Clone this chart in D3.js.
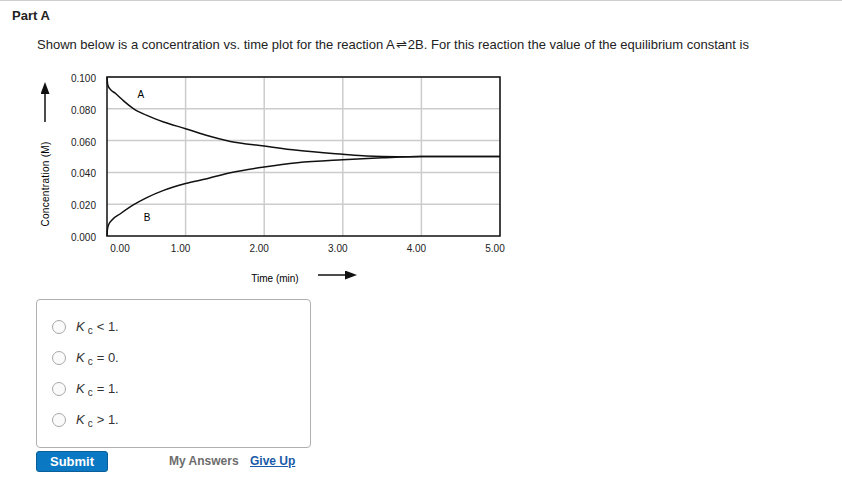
<!DOCTYPE html>
<html>
<head>
<meta charset="utf-8">
<style>
    body {
        margin: 0;
        width: 842px;
        height: 492px;
        background: white;
        font-family: Arial, 'Liberation Sans', Helvetica, sans-serif;
        color: #222;
        position: relative;
        overflow: hidden;
    }
    .topline {
        position: absolute; left: 0; top: 0; width: 842px; height: 1px;
        background: #cfcfcf;
    }
    .part {
        position: absolute; left: 12px; top: 8px;
        font-weight: bold; font-size: 13px; color: #222;
    }
    .question {
        position: absolute; left: 37px; top: 37px;
        font-size: 13px; color: #222; white-space: nowrap;
    }
    svg { position: absolute; left: 0; top: 0; overflow: visible; }
    .answers {
        position: absolute; left: 36px; top: 299px; width: 273px; height: 147px;
        border: 1px solid #b0b0b0; border-radius: 4px;
    }
    .opt {
        position: absolute; left: 0; height: 16px; font-size: 13px; color: #333;
    }
    .opt .radio {
        position: absolute; left: 15px; top: 1px; width: 12px; height: 12px;
        border: 1px solid #a8a8a8; border-radius: 50%; background: #fafafa;
    }
    .opt .lbl { position: absolute; left: 39px; top: 0; white-space: nowrap; }
    .opt sub { font-size: 10px; vertical-align: -3px; margin-left: 3px; margin-right: 4px; }
    .submit {
        position: absolute; left: 36px; top: 451px; width: 70px; height: 19px;
        background: #0b78c3; border: 1px solid #0a5e9a; border-radius: 3px;
        color: white; font-weight: bold; font-size: 13px; text-align: center; line-height: 19px;
    }
    .myans {
        position: absolute; left: 169px; top: 454px; font-weight: bold; font-size: 12px; color: #6d6d6d;
    }
    .giveup {
        position: absolute; left: 250px; top: 454px; font-weight: bold; font-size: 12px; color: #1a5aa8;
        text-decoration: underline;
    }
</style>
</head>
<body>
<div class="topline"></div>
<div class="part">Part A</div>
<div class="question">Shown below is a concentration vs. time plot for the reaction A&#8202;&#8652;&#8202;2B. For this reaction the value of the equilibrium constant is</div>

<svg width="842" height="300"></svg>

<div class="answers"></div>
<div class="submit">Submit</div>
<div class="myans">My Answers</div>
<div class="giveup">Give Up</div>

<script src="https://d3js.org/d3.v7.min.js"></script>
<script>

    // values
    let timeA = [0, 0.01, 0.05, 0.1, 0.2, 0.34, 0.5, 0.72, 1.0, 1.25, 1.57, 2.0, 2.42, 3.0, 3.3, 3.7, 4.0, 5.0]
    let concA = [0.100, 0.095, 0.0918, 0.090, 0.0855, 0.080, 0.076, 0.0717, 0.0675, 0.0635, 0.0595, 0.0566, 0.0539, 0.0514, 0.0503, 0.0498, 0.050, 0.050]

    let timeB = [0, 0.005, 0.02, 0.06, 0.17, 0.34, 0.5, 0.72, 1.0, 1.27, 1.57, 2.0, 2.42, 3.0, 3.5, 4.0, 5.0]
    let concB = [0, 0.004, 0.007, 0.0099, 0.014, 0.0197, 0.024, 0.0287, 0.033, 0.036, 0.0398, 0.0434, 0.0461, 0.048, 0.0492, 0.050, 0.050]

    let xTicks = [0, 1, 2, 3, 4, 5]
    let yTicks = [0, 0.02, 0.04, 0.06, 0.08, 0.1]

    let options = ["<", "=", "=", ">"]
    let optionValues = ["1.", "0.", "1.", "1."]

    let svg = d3.select("svg")

    let x = d3.scaleLinear().domain([0, 5]).range([107, 500])
    let y = d3.scaleLinear().domain([0, 0.1]).range([236, 77])

    // grid
    svg.append("g")
        .selectAll("line")
        .data(xTicks.slice(1))
        .join("line")
        .attr("x1", d => x(d)).attr("x2", d => x(d))
        .attr("y1", y(0.1)).attr("y2", y(0))
        .style("stroke", "#cccccc")
        .style("stroke-width", 1.5)

    svg.append("g")
        .selectAll("line")
        .data(yTicks.slice(1))
        .join("line")
        .attr("x1", x(0)).attr("x2", x(5))
        .attr("y1", d => y(d)).attr("y2", d => y(d))
        .style("stroke", "#cccccc")
        .style("stroke-width", 1.5)

    // frame
    svg.append("rect")
        .attr("x", x(0)).attr("y", y(0.1))
        .attr("width", x(5) - x(0)).attr("height", y(0) - y(0.1))
        .style("fill", "none")
        .style("stroke", "#111")
        .style("stroke-width", 1.5)

    // tick labels
    svg.append("g")
        .selectAll("text")
        .data(xTicks)
        .join("text")
        .attr("x", d => d == 0 ? x(d) + 13 : x(d) - 5)
        .attr("y", 252)
        .attr("text-anchor", "middle")
        .style("font-size", "10px")
        .style("fill", "#222")
        .text(d => d3.format(".2f")(d))

    svg.append("g")
        .selectAll("text")
        .data(yTicks)
        .join("text")
        .attr("x", 96)
        .attr("y", d => y(d) + 5)
        .attr("text-anchor", "end")
        .style("font-size", "10px")
        .style("fill", "#222")
        .text(d => d3.format(".3f")(d))

    // curves
    let lineA = d3.line()
        .x((d, i) => x(timeA[i]))
        .y(d => y(d))
        .curve(d3.curveMonotoneX)

    let lineB = d3.line()
        .x((d, i) => x(timeB[i]))
        .y(d => y(d))
        .curve(d3.curveMonotoneX)

    svg.append("path")
        .attr("d", lineA(concA))
        .style("fill", "none")
        .style("stroke", "#111")
        .style("stroke-width", 1.5)

    svg.append("path")
        .attr("d", lineB(concB))
        .style("fill", "none")
        .style("stroke", "#111")
        .style("stroke-width", 1.5)

    svg.append("text")
        .attr("x", x(0.43)).attr("y", y(0.0865))
        .attr("text-anchor", "middle")
        .style("font-size", "10px")
        .text("A")

    svg.append("text")
        .attr("x", x(0.51)).attr("y", y(0.0095))
        .attr("text-anchor", "middle")
        .style("font-size", "10px")
        .text("B")

    // axis titles and arrows
    svg.append("defs").append("marker")
        .attr("id", "head")
        .attr("viewBox", "0 0 10 10")
        .attr("refX", 0).attr("refY", 5)
        .attr("markerWidth", 8).attr("markerHeight", 6)
        .attr("orient", "auto")
        .attr("preserveAspectRatio", "none")
        .append("path")
        .attr("d", "M0,0 L10,5 L0,10 z")
        .style("fill", "#111")

    svg.append("text")
        .attr("x", 275).attr("y", 282)
        .attr("text-anchor", "middle")
        .style("font-size", "10px")
        .text("Time (min)")

    svg.append("line")
        .attr("x1", 318).attr("x2", 345)
        .attr("y1", 275).attr("y2", 275)
        .style("stroke", "#111")
        .style("stroke-width", 1.5)
        .attr("marker-end", "url(#head)")

    svg.append("text")
        .attr("transform", "translate(49,184) rotate(-90)")
        .attr("text-anchor", "middle")
        .style("font-size", "10px")
        .style("letter-spacing", "0.3px")
        .text("Concentration (M)")

    svg.append("line")
        .attr("x1", 45).attr("x2", 45)
        .attr("y1", 122).attr("y2", 94)
        .style("stroke", "#111")
        .style("stroke-width", 1.5)
        .attr("marker-end", "url(#head)")

    // answer options
    let box = d3.select(".answers")
    box.selectAll(".opt")
        .data(options)
        .join("div")
        .attr("class", "opt")
        .style("top", (d, i) => (19 + i * 31) + "px")
        .html((d, i) => '<div class="radio"></div><div class="lbl"><i>K</i><sub>c</sub>' + (d == "<" ? "&lt;" : d == ">" ? "&gt;" : d) + ' ' + optionValues[i] + '</div>')

</script>
</body>
</html>
